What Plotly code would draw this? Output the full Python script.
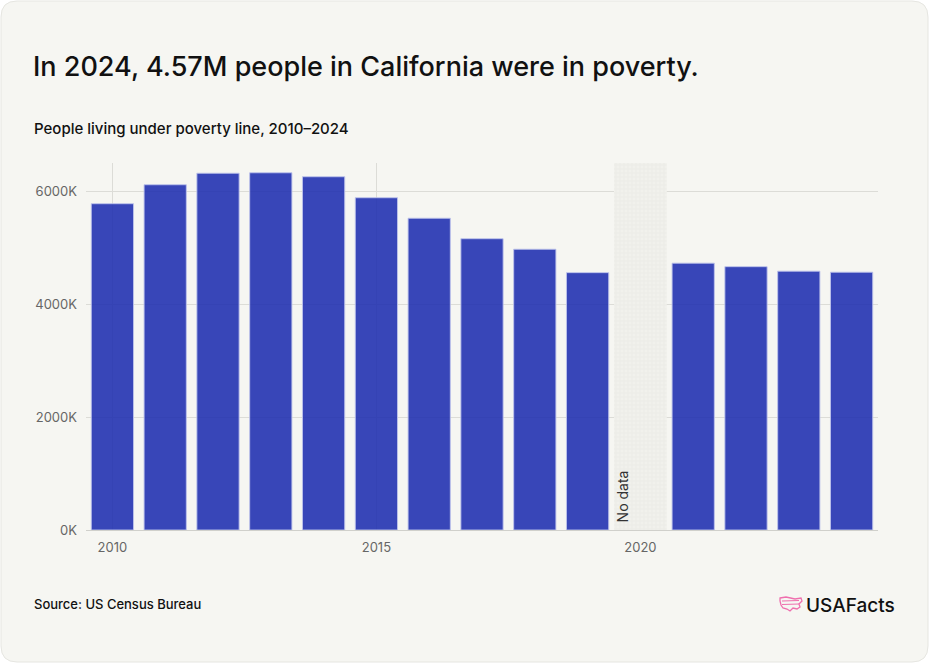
import plotly.graph_objects as go

# ---- data ----
years = [2010, 2011, 2012, 2013, 2014, 2015, 2016, 2017, 2018, 2019, 2021, 2022, 2023, 2024]
people = [5779000, 6115000, 6319000, 6327000, 6257000, 5885000, 5522000, 5159000, 4973000,
          4558000, 4726000, 4664000, 4584000, 4566000]
no_data_years = [2020]
y_tick_vals = [0, 2000000, 4000000, 6000000]
y_tick_text = ["0K", "2000K", "4000K", "6000K"]
x_tick_vals = [2010, 2015, 2020]
x_tick_text = ["2010", "2015", "2020"]

title = "In 2024, 4.57M people in California were in poverty."
subtitle = "People living under poverty line, 2010–2024"
source = "Source: US Census Bureau"

Y_MAX = 6500000

W, H = 929, 663
L, R, T, B = 86, 51, 163, 133
PW, PH = W - L - R, H - T - B


def px(x):
    return (x - L) / PW


def py(y):
    return (H - B - y) / PH


FONT = "Inter"

fig = go.Figure()

# no-data shading (patterned)
fig.add_trace(go.Bar(
    x=no_data_years, y=[Y_MAX] * len(no_data_years), width=1,
    marker=dict(color="rgba(236,236,231,0.6)", line=dict(width=0),
                pattern=dict(shape="+", fgcolor="#e4e4df", bgcolor="#f1f1ec", size=4, solidity=0.3)),
    hoverinfo="skip", showlegend=False,
))

fig.add_trace(go.Bar(
    x=years, y=people,
    marker=dict(color="rgba(30,45,175,0.88)", line=dict(color="rgba(190,195,235,0.9)", width=1)),
    showlegend=False,
))

# card background with rounded corners
r = 16
x0, x1, y0, y1 = 1, W - 1, 1, H - 1
pts = (
    f"M {px(x0 + r)},{py(y0)} L {px(x1 - r)},{py(y0)} Q {px(x1)},{py(y0)} {px(x1)},{py(y0 + r)} "
    f"L {px(x1)},{py(y1 - r)} Q {px(x1)},{py(y1)} {px(x1 - r)},{py(y1)} "
    f"L {px(x0 + r)},{py(y1)} Q {px(x0)},{py(y1)} {px(x0)},{py(y1 - r)} "
    f"L {px(x0)},{py(y0 + r)} Q {px(x0)},{py(y0)} {px(x0 + r)},{py(y0)} Z"
)
shapes = [dict(type="path", xref="paper", yref="paper", path=pts, layer="below",
               fillcolor="#f6f6f2", line=dict(color="#e6e6e1", width=1))]

# logo icon (approximate US outline)
icon = [(780, 598), (786, 597), (795, 599), (801, 598), (802, 601), (799, 604), (800, 607),
        (797, 609), (793, 608), (790, 611), (787, 609), (783, 608), (781, 605), (780, 601)]
path = "M " + " L ".join(f"{px(a)},{py(b)}" for a, b in icon) + " Z"
shapes.append(dict(type="path", xref="paper", yref="paper", path=path,
                   fillcolor="rgba(0,0,0,0)", line=dict(color="#ef6fae", width=1.3)))
for yy in (601, 604.5):
    shapes.append(dict(type="line", xref="paper", yref="paper",
                       x0=px(782), x1=px(799), y0=py(yy), y1=py(yy - 0.5),
                       line=dict(color="#ef6fae", width=1)))

annotations = [
    dict(text=title, xref="paper", yref="paper", x=px(31), y=py(67), xanchor="left", yanchor="middle",
         showarrow=False, font=dict(family=FONT, size=27, color="#111", weight=500)),
    dict(text=subtitle, xref="paper", yref="paper", x=px(32), y=py(128), xanchor="left", yanchor="middle",
         showarrow=False, font=dict(family=FONT, size=15, color="#111", weight=500)),
    dict(text=source, xref="paper", yref="paper", x=px(32), y=py(604), xanchor="left", yanchor="middle",
         showarrow=False, font=dict(family=FONT, size=13, color="#111", weight=500)),
    dict(text="USAFacts", xref="paper", yref="paper", x=px(897), y=py(605), xanchor="right", yanchor="middle",
         showarrow=False, font=dict(family=FONT, size=19, color="#111", weight=500)),
]
for yr in no_data_years:
    annotations.append(dict(text="No data", x=yr, y=0, xref="x", yref="y", xanchor="center", yanchor="bottom",
                            xshift=-18, yshift=6, textangle=-90, showarrow=False,
                            font=dict(family=FONT, size=14, color="#333")))

fig.update_layout(
    width=W, height=H,
    margin=dict(l=L, r=R, t=T, b=B),
    paper_bgcolor="white", plot_bgcolor="rgba(0,0,0,0)",
    barmode="overlay", bargap=0.2,
    shapes=shapes, annotations=annotations,
    font=dict(family=FONT),
    xaxis=dict(range=[2009.5, 2024.5], tickvals=x_tick_vals, ticktext=x_tick_text,
               showgrid=True, gridcolor="#dcdcd7", gridwidth=1, zeroline=False,
               tickfont=dict(family=FONT, size=13, color="#666"), ticks="", ticklabelstandoff=8,
               showline=False),
    yaxis=dict(range=[0, Y_MAX], tickvals=y_tick_vals, ticktext=y_tick_text,
               showgrid=True, gridcolor="#dcdcd7", gridwidth=1, zeroline=True,
               zerolinecolor="#d0d0cb", zerolinewidth=1,
               tickfont=dict(family=FONT, size=13, color="#666"), ticks="", ticklabelstandoff=8),
)

fig.write_html("out.html")
